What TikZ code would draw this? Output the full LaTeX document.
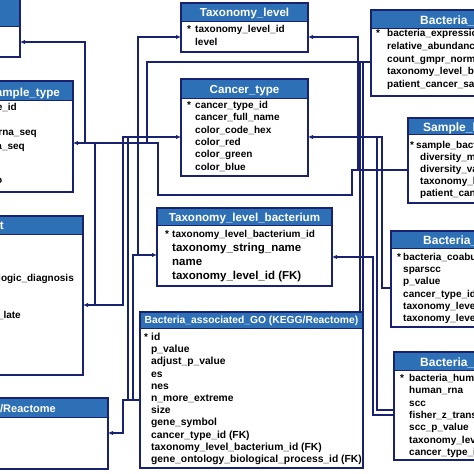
\documentclass[tikz,border=0pt]{standalone}
\usepackage{fontspec}
\setmainfont{Liberation Sans}
\usetikzlibrary{arrows.meta,calc}
\definecolor{navy}{RGB}{24,34,112}
\definecolor{hdrblue}{RGB}{46,112,182}
\tikzset{
  tbl/.style={fill=white, inner sep=0pt, outer sep=0pt, draw=none},
  bord/.style={draw=navy, line width=1.6pt},
  hdrfill/.style={fill=hdrblue},
  conn/.style={draw=navy, line width=1.3pt},
  arr/.style={conn, -{Latex[length=5pt,width=4.5pt]}},
  item/.style={anchor=base west, inner sep=0pt, font=\fontsize{10}{12}\selectfont\bfseries},
  ritem/.style={item, anchor=base east},
  bigitem/.style={item, font=\fontsize{11.5}{13}\selectfont\bfseries},
  goitem/.style={item, font=\fontsize{10.3}{12}\selectfont\bfseries},
  htext/.style={anchor=base, inner sep=0pt, text=white, font=\fontsize{11.6}{13}\selectfont\bfseries},
  rhtext/.style={htext, anchor=base west, font=\fontsize{12}{14}\selectfont\bfseries},
  bul/.style={anchor=base west, inner sep=0pt, font=\fontsize{10}{12}\selectfont\bfseries},
}
\newcommand\ertable[6]{%
  \node[tbl, anchor=north west, minimum width={(#4-(#2))*1pt}, minimum height={(#5-(#3))*1pt}] (#1) at (#2,#3) {};
  \fill[hdrfill] (#2,#3) rectangle (#4,#6);
  \draw[navy, line width=0.8pt] (#2,#6) -- (#4,#6);
  \draw[bord] (#2,#3) rectangle (#4,#5);
}
\newcommand\itemlist[6]{%
  \foreach \txt [count=\k] in {#6} {
    \node[#2] (#1\k) at (#3,{#4+(\k-1)*(#5)}) {\txt};
  }
}
\begin{document}
\begin{tikzpicture}[x=1pt,y=-1pt]
\path[use as bounding box, fill=white] (0,0) rectangle (474,474);
\clip (0,0) rectangle (474,474);

% ---------- tables ----------
\ertable{tl}{-60}{-2}{20}{57}{26}
\ertable{st}{-60}{81}{73}{192}{100}
\ertable{pt}{-60}{216}{83}{375}{234}
\ertable{rx}{-60}{398}{108}{469}{417}
\ertable{tax}{181}{3}{308}{52}{21}
\ertable{ct}{181}{79}{308}{176}{98}
\ertable{tlb}{157}{208}{332}{286}{225}
\ertable{go}{140}{312}{363}{468}{328}
\ertable{be}{371}{10}{520}{96}{28}
\ertable{sb}{408}{118}{520}{203}{134}
\ertable{bc}{391}{231}{520}{327}{248}
\ertable{bh}{394}{352}{520}{460}{370}

% ---------- headers ----------
\node[htext] (taxh) at (244.5,16.5) {Taxonomy\_level};
\node[htext] (cth) at (244.5,93.5) {Cancer\_type};
\node[htext] (tlbh) at (244.5,221.5) {Taxonomy\_level\_bacterium};
\node[htext, font=\fontsize{10.3}{12}\selectfont\bfseries] (goh) at (251.5,323.5) {Bacteria\_associated\_GO (KEGG/Reactome)};
\node[rhtext] (beh) at (420,24) {Bacteria\_expression};
\node[rhtext] (sbh) at (423,131) {Sample\_bacteria\_diversity};
\node[rhtext] (bch) at (423,244) {Bacteria\_coabundance};
\node[rhtext] (bhh) at (420,366) {Bacteria\_human\_correlation};
\node[htext, anchor=base east] (sth) at (60,96) {Sample\_type};
\node[htext, anchor=base east] (pth) at (4,229) {Patient};
\node[htext, anchor=base east, font=\fontsize{11}{13}\selectfont\bfseries] (rxh) at (56,412) {KEGG/Reactome};

% ---------- items ----------
\node[bul] (taxb) at (187,32.5) {*};
\itemlist{tax}{item}{195}{32.5}{13}{taxonomy\_level\_id, level}
\node[bul] (ctb) at (187,108.5) {*};
\itemlist{ct}{item}{195}{108.5}{12.3}{cancer\_type\_id, cancer\_full\_name, color\_code\_hex, color\_red, color\_green, color\_blue}
\node[bul] (tlbb) at (165,237.5) {*};
\node[item] (tlb1) at (172,237.5) {taxonomy\_level\_bacterium\_id};
\itemlist{tlbx}{bigitem}{172}{251}{14}{taxonomy\_string\_name, name, taxonomy\_level\_id (FK)}
\node[bul] (gob) at (144,340.5) {*};
\itemlist{go}{goitem}{151}{340.5}{12.2}{id, p\_value, adjust\_p\_value, es, nes, n\_more\_extreme, size, gene\_symbol, cancer\_type\_id (FK), taxonomy\_level\_bacterium\_id (FK), gene\_ontology\_biological\_process\_id (FK)}
\node[bul] (beb) at (376,36.5) {*};
\itemlist{be}{item}{387}{36.5}{12.75}{bacteria\_expression\_id, relative\_abundance, count\_gmpr\_normalized, taxonomy\_level\_bacterium\_id (FK), patient\_cancer\_sample\_id (FK)}
\node[bul] (sbb) at (410,148.5) {*};
\node[item] (sb1) at (416,148.5) {sample\_bacteria\_diversity\_id};
\itemlist{sbx}{item}{420}{160.5}{12}{diversity\_method, diversity\_value, taxonomy\_level\_id (FK), patient\_cancer\_sample\_id (FK)}
\node[bul] (bcb) at (397,260.5) {*};
\itemlist{bc}{item}{403}{260.5}{12.2}{bacteria\_coabundance\_id, sparscc, p\_value, cancer\_type\_id (FK), taxonomy\_level\_bacterium\_id\_1 (FK), taxonomy\_level\_bacterium\_id\_2 (FK)}
\node[bul] (bhb) at (400,381.5) {*};
\itemlist{bh}{item}{409}{381.5}{12.3}{bacteria\_human\_correlation\_id, human\_rna, scc, fisher\_z\_transformation, scc\_p\_value, taxonomy\_level\_bacterium\_id (FK), cancer\_type\_id (FK)}
\node[ritem] (st1) at (17,110.5) {sample\_type\_id};
\node[ritem] (st2) at (37,135) {bacteria\_rna\_seq};
\node[ritem] (st3) at (25,149) {human\_rna\_seq};
\node[ritem] (st4) at (2.5,183.5) {sample\_info};
\node[ritem] (pt1) at (74,281.5) {pathologic\_diagnosis};
\node[ritem] (pt2) at (21,318.5) {stage\_early\_late};

% ---------- connectors ----------
\coordinate (j1) at (85,143);
\coordinate (j2) at (147,143);
\coordinate (j3) at (138,255);
\coordinate (j4) at (128,137);
\coordinate (j5) at (95,143);
\coordinate (j6) at (377,137);
\draw[arr] (j1) -- (85,42) -- (tl.east |- 0,42);
\draw[arr] (sb.west |- 0,170) -- (352,170) -- (352,195) -- (158,195) -- (158,143) -- (st.east |- 0,143);
\draw[conn] (be.west |- 0,62) -- (147,62) -- (j2);
\draw[arr] (sb.west |- 0,170) -- (358,170) -- (358,37) -- (tax.east |- 0,37);
\draw[arr] (go.west |- 0,400) -- (133,400) -- (133,255) -- (tlb.west |- 0,255);
\draw[arr] (j3) -- (138,37) -- (tax.west |- 0,37);
\draw[arr] (go.west |- 0,400) -- (128,400) -- (j4) -- (ct.west |- 0,137);
\draw[arr] (j4) -- (123,137) -- (123,305) -- (pt.east |- 0,305);
\draw[conn] (j5) -- (95,305) -- (123,305);
\draw[arr] (go.west |- 0,400) -- (123,400) -- (123,433) -- (rx.east |- 0,433);
\draw[conn] (be.west |- 0,62) -- (360,62) -- (go.north -| 360,0);
\draw[conn] (363,62) -- (go.north east);
\draw[arr] (bc.west |- 0,288) -- (382,288) -- (382,137) -- (ct.east |- 0,137);
\draw[conn] (j6) -- (377,410) -- (bh.west |- 0,410);
\draw[arr] (bh.west |- 0,415) -- (373,415) -- (373,257) -- (tlb.east |- 0,257);
\end{tikzpicture}
\end{document}
